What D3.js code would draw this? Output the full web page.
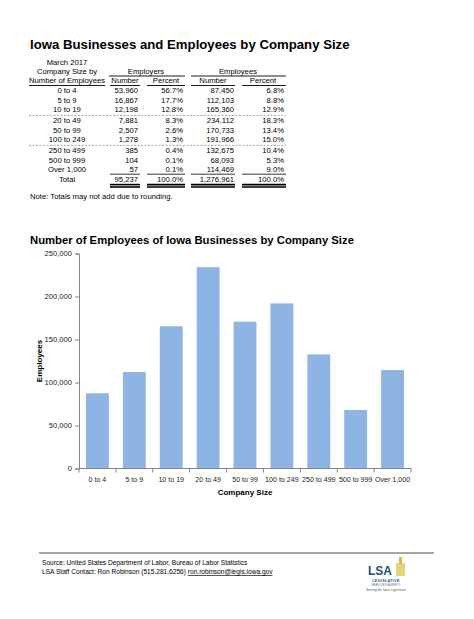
<!DOCTYPE html>
<html><head><meta charset="utf-8">
<script src="https://cdn.jsdelivr.net/npm/d3@7"></script>
<style>
body{margin:0;background:#fff;}
text{font-family:"Liberation Sans",Arial,sans-serif;}
</style></head>
<body>
<svg id="c" width="474" height="619"></svg>
<script>
const categories = ["0 to 4","5 to 9","10 to 19","20 to 49","50 to 99","100 to 249","250 to 499","500 to 999","Over 1,000"];
const employersNumber = ["53,960","16,867","12,198","7,881","2,507","1,278","385","104","57"];
const employersPercent = ["56.7%","17.7%","12.8%","8.3%","2.6%","1.3%","0.4%","0.1%","0.1%"];
const employeesNumber = [87450,112103,165360,234112,170733,191966,132675,68093,114469];
const employeesPercent = ["6.8%","8.8%","12.9%","18.3%","13.4%","15.0%","10.4%","5.3%","9.0%"];
const totals = ["95,237","100.0%","1,276,961","100.0%"];
const yTicks = [0,50000,100000,150000,200000,250000];

const svg = d3.select("#c");
svg.append("rect").attr("width",474).attr("height",619).attr("fill","#fff");

// Title
svg.append("text").attr("x",30).attr("y",49).attr("font-size",13.2).attr("font-weight","bold")
  .attr("fill","#000").text("Iowa Businesses and Employees by Company Size");

// Table
const fs = 7.7;
const t = svg.append("g").attr("font-size",fs).attr("fill","#000");
const labelX = 67;
const cols = [138,183,234,284];
const tx = (x,y,s,anchor)=>t.append("text").attr("x",x).attr("y",y).attr("text-anchor",anchor||"middle").attr("fill","#000").text(s);
const hl = (x1,x2,y,w,dash)=>{const l=t.append("line").attr("x1",x1).attr("x2",x2).attr("y1",y).attr("y2",y).attr("stroke","#000").attr("stroke-width",w||0.8); if(dash) l.attr("stroke-dasharray",dash).attr("stroke","#666");};
tx(labelX,65,"March 2017");
tx(labelX,74,"Company Size by");
tx(labelX,83,"Number of Employees");
hl(29,105,85.5,0.9);
tx(146,74,"Employers"); hl(109,185,76,0.9);
tx(238,74,"Employees"); hl(191,286,76,0.9);
tx(125,83,"Number"); hl(110,140,85.5,0.9);
tx(166,83,"Percent"); hl(147,185,85.5,0.9);
tx(213,83,"Number"); hl(191,235,85.5,0.9);
tx(263,83,"Percent"); hl(242,286,85.5,0.9);

const rowY = [];
let y = 93;
categories.forEach((c,i)=>{
  if(i===3||i===6) y += 1.2;
  rowY.push(y);
  y += 9.6;
});
categories.forEach((c,i)=>{
  const ry = rowY[i];
  tx(labelX,ry,c);
  tx(cols[0],ry,employersNumber[i],"end");
  tx(cols[1],ry,employersPercent[i],"end");
  tx(cols[2],ry,d3.format(",")(employeesNumber[i]),"end");
  tx(cols[3],ry,employeesPercent[i],"end");
});
hl(29,286,rowY[3]-7.6,0.6,"2,1.5");
hl(29,286,rowY[6]-7.6,0.6,"2,1.5");
const segs = [[110,140],[147,185],[191,235],[242,286]];
const lastY = rowY[8];
segs.forEach(([a,b])=>hl(a,b,lastY+2,0.8));
const totY = lastY+10;
tx(labelX,totY,"Total");
totals.forEach((s,i)=>tx(cols[i],totY,s,"end"));
segs.forEach(([a,b])=>{hl(a,b,totY+2.4,1.6);hl(a,b,totY+4.8,1.6);});
t.append("text").attr("x",30).attr("y",199).attr("fill","#000").text("Note:  Totals may not add due to rounding.");

// Chart
svg.append("text").attr("x",30).attr("y",244).attr("font-size",11.3).attr("font-weight","bold")
  .attr("fill","#000").text("Number of Employees of Iowa Businesses by Company Size");

const plotL = 79, plotR = 411, plotT = 253.5, plotB = 468.5;
const x = d3.scaleBand().domain(categories).range([plotL,plotR]).paddingInner(0.38).paddingOuter(0.19);
const yS = d3.scaleLinear().domain([0,250000]).range([plotB,plotT]);

const g = svg.append("g");
g.selectAll("rect.bar").data(categories).join("rect").attr("class","bar")
  .attr("x",d=>x(d)).attr("width",x.bandwidth())
  .attr("y",(d,i)=>yS(employeesNumber[i])).attr("height",(d,i)=>plotB-yS(employeesNumber[i]))
  .attr("fill","#8db4e2");

const axColor = "#868686";
const yAxis = g.append("g").attr("transform",`translate(${plotL},0)`)
  .call(d3.axisLeft(yS).tickValues(yTicks).tickFormat(d3.format(",")).tickSize(4).tickPadding(3));
yAxis.select(".domain").attr("stroke",axColor);
yAxis.selectAll(".tick line").attr("stroke",axColor);
yAxis.selectAll("text").attr("font-size",7.6).attr("fill","#222").attr("font-family","Liberation Sans, Arial, sans-serif");

const xAxis = g.append("g").attr("transform",`translate(0,${plotB})`)
  .call(d3.axisBottom(x).tickSize(0).tickPadding(8));
xAxis.select(".domain").attr("stroke",axColor).attr("d",`M${plotL},0H${plotR}`);
xAxis.selectAll("text").attr("font-size",7.1).attr("fill","#222").attr("font-family","Liberation Sans, Arial, sans-serif");
const step = x.step();
const bounds = categories.map((c,i)=> x(c) - x.paddingInner()*step/2).concat([plotR]);
g.selectAll("line.xt").data(bounds).join("line").attr("class","xt")
  .attr("x1",d=>d).attr("x2",d=>d).attr("y1",plotB).attr("y2",plotB+4).attr("stroke",axColor);

svg.append("text").attr("x",(plotL+plotR)/2).attr("y",495).attr("text-anchor","middle")
  .attr("font-size",8).attr("font-weight","bold").text("Company Size");
svg.append("text").attr("transform",`translate(42,${(plotT+plotB)/2}) rotate(-90)`).attr("text-anchor","middle")
  .attr("font-size",8).attr("font-weight","bold").text("Employees");

// Footer
svg.append("line").attr("x1",39).attr("x2",434).attr("y1",553).attr("y2",553).attr("stroke","#a6a6a6").attr("stroke-width",1.8);
const f = svg.append("g").attr("font-size",6.6).attr("fill","#000");
f.append("text").attr("x",42).attr("y",565).text("Source:  United States Department of Labor, Bureau of Labor Statistics");
const l2 = f.append("text").attr("x",42).attr("y",574);
l2.append("tspan").text("LSA Staff Contact:  Ron Robinson (515.281.6256) ");
l2.append("tspan").attr("text-decoration","underline").text("ron.robinson@legis.iowa.gov");

// Logo
const lg = svg.append("g");
lg.append("rect").attr("x",396).attr("y",563).attr("width",9).attr("height",13).attr("fill","#e8d27a");
lg.append("rect").attr("x",399).attr("y",557).attr("width",3).attr("height",7).attr("fill","#d9b94a");
lg.append("text").attr("x",380).attr("y",575).attr("text-anchor","middle").attr("font-family","Liberation Serif, serif")
  .attr("font-size",12).attr("font-weight","bold").attr("fill","#1f4e79").text("LSA");
lg.append("text").attr("x",386).attr("y",582).attr("text-anchor","middle").attr("font-family","Liberation Serif, serif")
  .attr("font-size",3.6).attr("font-weight","bold").attr("fill","#1f4e79").attr("letter-spacing",0.4).text("LEGISLATIVE");
lg.append("text").attr("x",386).attr("y",586).attr("text-anchor","middle").attr("font-family","Liberation Serif, serif")
  .attr("font-size",2.6).attr("fill","#1f4e79").attr("letter-spacing",0.3).text("SERVICES AGENCY");
lg.append("text").attr("x",386).attr("y",591).attr("text-anchor","middle").attr("font-family","Liberation Serif, serif")
  .attr("font-size",3.2).attr("font-style","italic").attr("fill","#555").text("Serving the Iowa Legislature");
</script>
</body></html>
